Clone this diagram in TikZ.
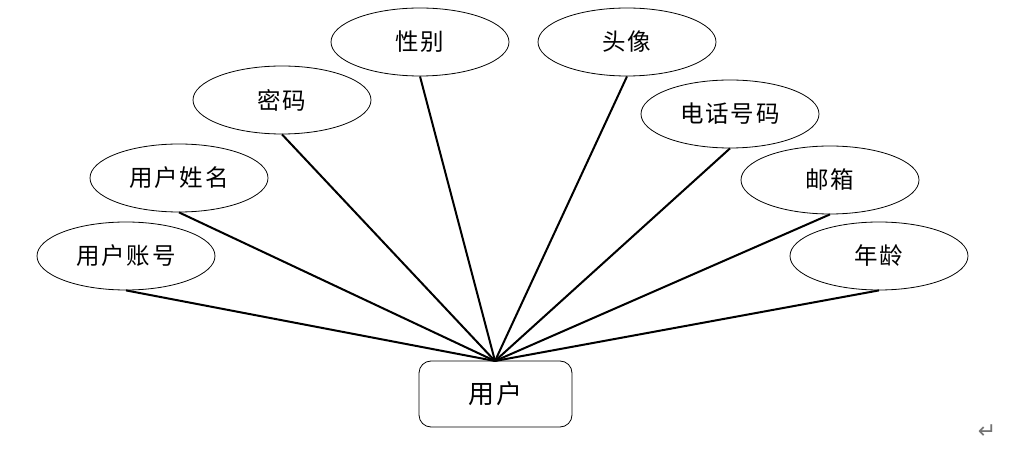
\documentclass[tikz,border=0pt]{standalone}
\usepackage{fontspec}
\newfontfamily\cjk{Noto Sans CJK SC}[LetterSpace=8]
\newfontfamily\cjkb{Noto Sans CJK SC}[LetterSpace=6]
\newfontfamily\djv{DejaVu Sans}
\usetikzlibrary{shapes.geometric}
\begin{document}
\begin{tikzpicture}[x=1pt,y=-1pt,
  attr/.style={ellipse,draw,line width=0.8pt,minimum width=178pt,minimum height=68pt,inner sep=0pt,font=\cjk\fontsize{23.5}{26}\selectfont},
  ent/.style={rectangle,rounded corners=12pt,draw,line width=0.8pt,minimum width=153pt,minimum height=66pt,font=\cjkb\fontsize{26}{28}\selectfont},
  conn/.style={line width=2pt}]
\useasboundingbox (0,0) rectangle (1031,470);
\node[attr] (zh) at (126,256) {用户账号};
\node[attr] (xm) at (179,178) {用户姓名};
\node[attr] (mm) at (282,100) {密码};
\node[attr] (xb) at (420,42) {性别};
\node[attr] (tx) at (627,42) {头像};
\node[attr] (dh) at (730,114) {电话号码};
\node[attr] (yx) at (830,180) {邮箱};
\node[attr] (nl) at (879,256) {年龄};
\node[ent] (yh) at (495.5,394) {用户};
\coordinate (hub) at (495,361);
\foreach \n in {zh,xm,mm,xb,tx,dh,yx,nl}
  \draw[conn] (\n.south) -- (hub);
\node[text=black!55,font=\djv\fontsize{22}{24}\selectfont] (ret) at (987,432) {↵};
\end{tikzpicture}
\end{document}
